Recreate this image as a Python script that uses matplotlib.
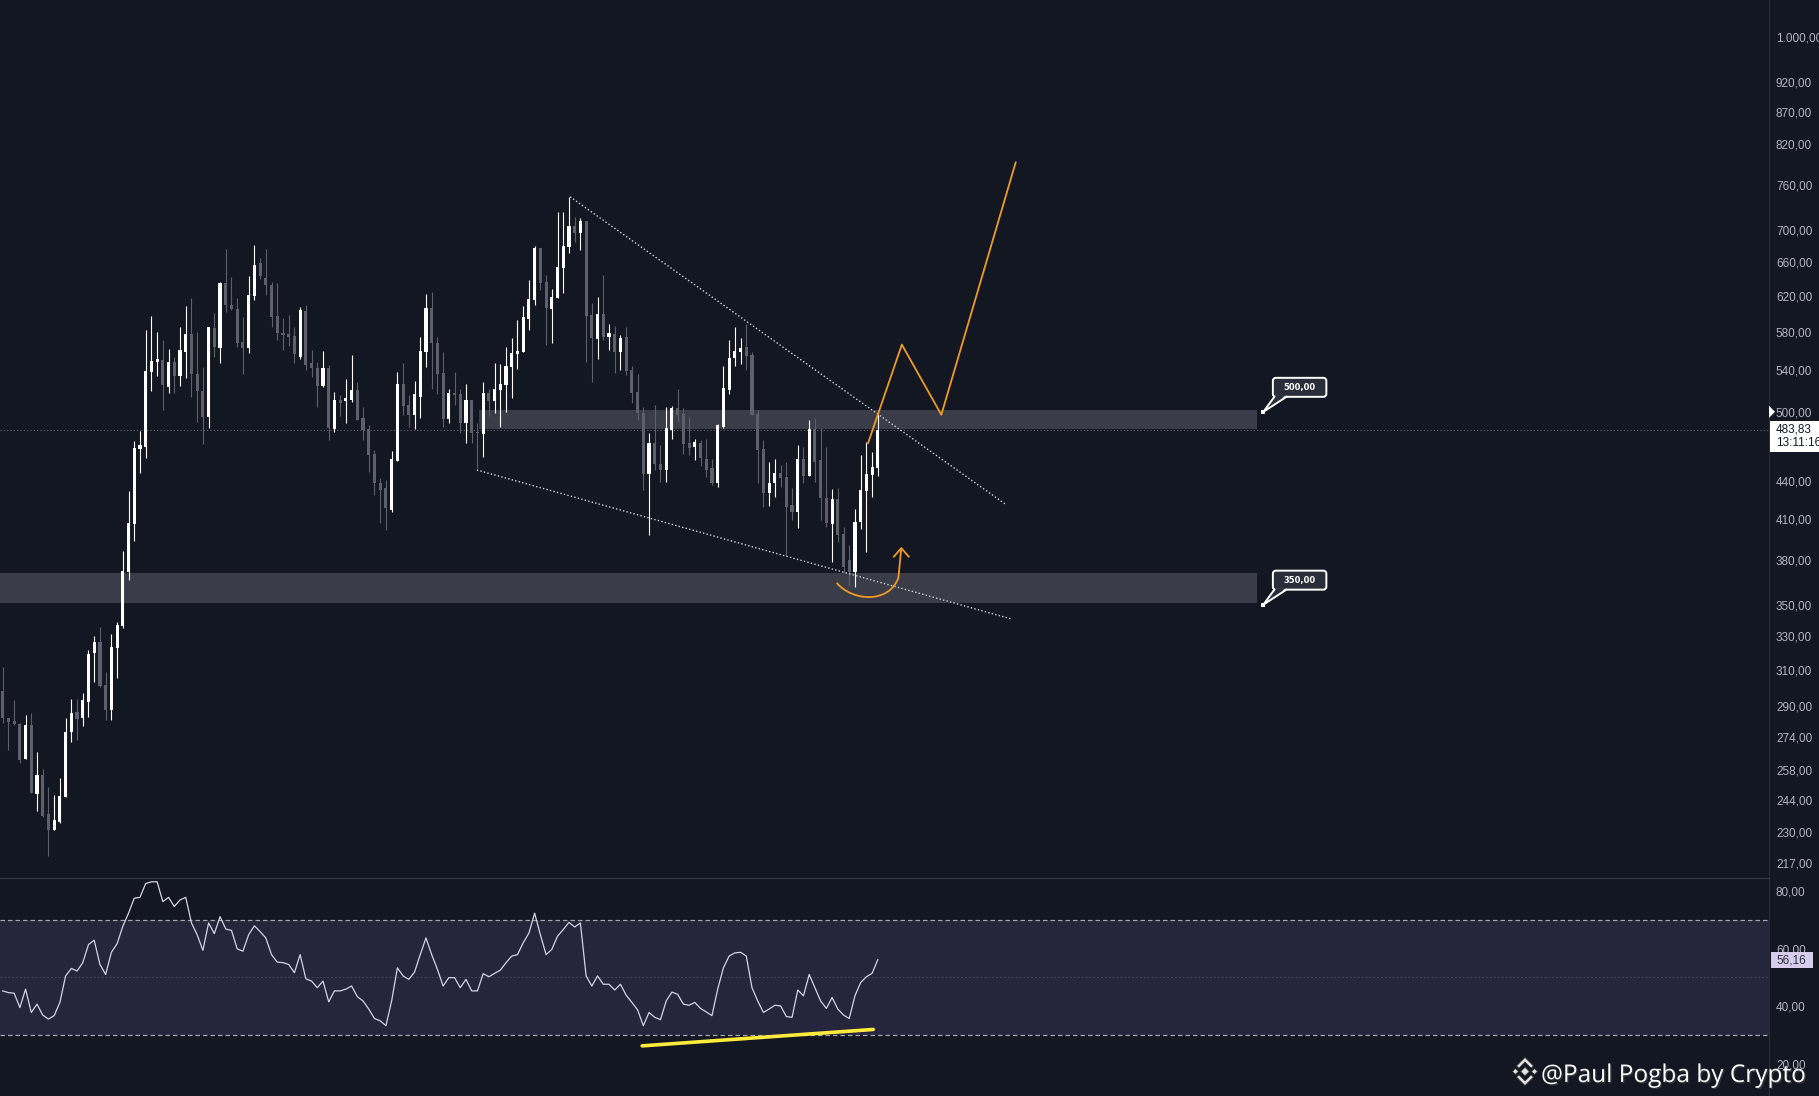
import matplotlib
matplotlib.use("Agg")
import matplotlib.pyplot as plt
import matplotlib.patheffects as pe
from matplotlib.patches import FancyBboxPatch, Polygon, Rectangle, PathPatch
from matplotlib.path import Path

W, H = 1819, 1096
BG = "#131722"
BULL = "#ffffff"
BEAR = "#5d606b"
ORANGE = "#ef9b26"
AXIS_TXT = "#b2b5be"

# ---- candle data ----
opens = [
    298.4, 283.7, 282.3, 280.9, 263.3, 280.1, 246.8, 255.4, 237.6, 230.6,
    234.2, 245.2, 276.3, 286.8, 283.6, 292.4, 319.8, 326.8, 301.6, 287.9,
    323.3, 336.2, 372.0, 406.4, 467.2, 468.8, 538.3, 548.6, 550.6, 523.7,
    548.6, 534.4, 558.4, 577.3, 536.6, 519.2, 495.6, 584.3, 563.1, 634.4,
    609.2, 604.4, 569.1, 562.3, 619.4, 658.0, 640.0, 632.1, 596.9, 578.3,
    577.3, 575.2, 553.3, 602.7, 546.9, 541.8, 524.4, 541.8, 484.0, 511.0,
    510.4, 511.0, 520.8, 494.0, 484.0, 462.9, 438.0, 434.0, 416.9, 456.7,
    526.3, 506.2, 497.0, 514.1, 558.8, 606.1, 568.0, 536.8, 493.0, 517.9,
    516.4, 489.4, 511.0, 481.9, 479.8, 517.9, 510.3, 520.5, 525.3, 542.8,
    556.3, 558.8, 593.3, 614.8, 676.5, 636.0, 604.3, 616.7, 651.9, 678.5,
    705.0, 696.3, 711.9, 598.0, 571.6, 599.1, 574.4, 577.3, 558.8, 573.8,
    540.1, 518.8, 498.8, 445.8, 471.6, 454.4, 449.2, 483.7, 503.1, 498.3,
    471.6, 468.2, 472.2, 457.9, 450.3, 438.5, 486.6, 520.5, 551.9, 558.1,
    563.3, 555.3, 497.9, 466.4, 430.4, 438.0, 446.2, 443.4, 420.7, 415.6,
    457.9, 444.4, 484.0, 457.3, 426.0, 406.2, 425.2, 399.2, 380.0, 371.9,
    407.7, 432.1, 444.8, 450.3,
]
highs = [
    312.0, 284.0, 293.3, 281.0, 285.3, 286.3, 266.6, 258.2, 249.9, 246.0,
    253.9, 283.7, 293.8, 293.8, 297.3, 321.7, 330.1, 336.0, 309.1, 331.4,
    339.1, 386.4, 432.0, 473.9, 482.5, 581.8, 596.9, 579.6, 571.2, 561.6,
    553.7, 584.9, 608.6, 617.6, 579.8, 543.6, 584.9, 600.6, 636.0, 675.7,
    641.9, 616.7, 596.1, 642.7, 680.7, 664.0, 675.3, 636.0, 634.1, 594.7,
    598.0, 585.4, 607.1, 609.2, 560.5, 548.4, 559.8, 545.1, 518.8, 515.8,
    531.2, 555.3, 528.7, 504.7, 487.9, 465.8, 442.1, 440.7, 465.2, 538.4,
    547.4, 515.8, 529.2, 574.1, 621.3, 624.2, 574.1, 558.8, 521.5, 538.4,
    521.5, 526.3, 511.0, 489.9, 528.5, 521.9, 547.4, 546.2, 563.9, 572.7,
    592.5, 608.0, 638.0, 679.4, 676.5, 643.9, 627.1, 723.8, 723.8, 744.2,
    717.2, 715.4, 711.9, 611.1, 618.6, 643.9, 588.1, 586.0, 576.2, 584.6,
    544.1, 536.5, 504.7, 480.4, 506.2, 470.2, 504.7, 505.8, 521.2, 504.0,
    495.4, 475.1, 474.5, 475.1, 457.9, 488.8, 544.1, 570.9, 585.2, 572.7,
    587.8, 558.8, 501.6, 474.5, 456.0, 457.9, 452.9, 456.0, 434.0, 470.2,
    468.2, 492.4, 494.0, 484.9, 468.6, 433.2, 434.0, 404.2, 390.7, 417.4,
    461.5, 472.8, 464.4, 498.3,
]
lows = [
    281.0, 267.4, 280.1, 261.0, 263.0, 246.9, 239.0, 236.3, 219.8, 230.6,
    233.7, 245.2, 271.6, 272.4, 279.6, 284.4, 303.4, 300.6, 282.7, 282.7,
    305.4, 335.1, 366.0, 393.7, 446.4, 459.0, 519.5, 534.6, 501.6, 517.6,
    517.6, 524.8, 532.2, 514.1, 490.9, 471.5, 485.7, 553.3, 547.6, 601.6,
    603.5, 563.9, 536.1, 557.1, 614.8, 638.8, 620.5, 585.2, 570.9, 560.5,
    564.8, 547.4, 551.8, 540.1, 533.2, 504.7, 523.7, 474.5, 481.9, 496.2,
    489.9, 509.4, 492.4, 474.5, 447.5, 428.6, 406.7, 401.7, 415.6, 456.7,
    497.0, 486.4, 484.0, 494.0, 542.8, 521.2, 516.5, 486.4, 489.4, 506.2,
    480.4, 471.6, 471.6, 450.3, 460.3, 496.2, 498.6, 486.4, 500.0, 512.6,
    540.8, 558.8, 581.6, 609.2, 626.3, 565.7, 568.0, 616.7, 622.5, 671.0,
    684.8, 674.4, 548.4, 528.5, 550.9, 570.9, 560.5, 537.5, 540.1, 534.9,
    508.2, 492.4, 432.8, 398.0, 448.9, 439.3, 439.3, 475.6, 491.0, 462.9,
    462.0, 457.3, 452.0, 442.9, 436.5, 434.7, 484.9, 516.7, 544.1, 546.2,
    540.1, 497.0, 438.5, 419.4, 419.9, 427.2, 435.3, 382.8, 409.2, 403.0,
    438.5, 444.4, 439.3, 409.2, 404.2, 378.8, 393.1, 371.2, 362.1, 361.8,
    402.7, 385.9, 427.5, 443.9,
]
closes = [
    283.6, 281.8, 280.6, 262.5, 280.1, 247.1, 255.4, 236.7, 230.6, 234.9,
    245.6, 276.5, 286.7, 283.2, 293.3, 319.4, 326.8, 301.0, 287.9, 323.7,
    337.0, 372.5, 407.0, 467.9, 469.9, 539.1, 549.1, 551.7, 525.3, 548.4,
    534.2, 560.5, 577.3, 536.6, 519.2, 495.6, 584.9, 564.1, 634.1, 609.2,
    604.6, 567.4, 562.3, 620.5, 655.9, 642.3, 632.1, 596.1, 578.0, 576.2,
    574.1, 556.9, 603.5, 545.1, 541.8, 524.4, 541.8, 484.9, 511.0, 508.5,
    513.2, 520.8, 492.4, 483.4, 461.5, 438.0, 432.6, 418.2, 457.9, 526.3,
    505.6, 497.0, 516.5, 559.8, 606.1, 567.4, 536.1, 493.0, 517.9, 515.6,
    489.4, 511.0, 480.4, 480.4, 517.9, 510.3, 521.2, 526.3, 544.1, 557.7,
    559.8, 595.5, 615.6, 676.5, 634.8, 605.4, 618.6, 653.2, 679.4, 705.0,
    696.3, 711.9, 596.9, 572.7, 599.1, 574.4, 578.0, 558.8, 573.4, 539.4,
    517.9, 498.5, 446.0, 471.6, 453.7, 448.9, 484.9, 503.7, 497.0, 471.0,
    467.8, 473.0, 458.8, 448.9, 438.5, 488.3, 522.2, 551.9, 559.8, 562.3,
    554.6, 497.0, 465.8, 430.4, 438.5, 446.2, 442.1, 419.4, 415.6, 457.9,
    444.4, 484.0, 455.9, 426.0, 406.7, 425.2, 398.0, 375.4, 371.9, 407.9,
    432.6, 445.6, 451.6, 483.83,
]
rsi = [
    45.3, 44.7, 44.5, 39.5, 45.9, 37.8, 40.7, 36.9, 35.5, 36.7,
    41.3, 50.5, 53.1, 52.2, 55.1, 61.4, 62.9, 54.5, 51.0, 58.7,
    61.7, 67.7, 72.3, 77.5, 77.8, 82.6, 83.2, 83.2, 76.3, 77.8,
    74.6, 76.9, 77.8, 68.9, 64.8, 59.4, 68.9, 65.2, 71.1, 66.8,
    66.3, 59.9, 59.1, 64.8, 67.9, 65.9, 63.7, 57.9, 55.3, 55.1,
    54.5, 51.6, 57.9, 49.5, 48.7, 46.4, 48.7, 41.5, 45.3, 45.3,
    45.9, 47.0, 43.3, 41.8, 39.0, 35.7, 34.9, 33.2, 41.8, 53.3,
    50.5, 49.3, 51.8, 57.9, 63.7, 57.9, 52.8, 47.0, 49.9, 49.9,
    46.4, 49.3, 45.3, 45.3, 51.3, 50.2, 51.4, 52.5, 55.1, 57.4,
    57.9, 62.0, 65.4, 72.3, 64.8, 57.9, 59.7, 64.3, 66.6, 69.1,
    67.5, 68.9, 50.5, 47.0, 50.5, 47.6, 47.6, 45.6, 47.6, 43.8,
    41.3, 38.7, 33.2, 37.8, 36.1, 35.3, 41.8, 44.9, 44.1, 40.7,
    40.3, 41.3, 39.2, 38.0, 36.7, 45.9, 53.3, 57.4, 58.5, 58.7,
    57.4, 46.4, 41.8, 37.8, 39.0, 40.3, 40.1, 36.4, 36.1, 45.6,
    43.6, 51.0, 46.4, 41.8, 39.2, 43.0, 39.0, 36.9, 35.7, 43.6,
    48.2, 50.2, 51.4, 56.16,
]

price_ticks = [217, 230, 244, 258, 274, 290, 310, 330, 350, 380, 410, 440,
               500, 540, 580, 620, 660, 700, 760, 820, 870, 920, 1000]
rsi_ticks = [20, 40, 60, 80]
last_price = 483.83
last_rsi = 56.16
countdown = "13:11:16"

# drawings (bar index, price)
zone_hi = (83.3, 219.3, 484.0, 502.0)
zone_lo = (-0.5, 219.3, 351.2, 370.8)
upper_line_x, upper_line_y = [99.2, 175.2], [744.2, 421.8]
lower_line_x, lower_line_y = [82.9, 176.2], [449.0, 341.0]
proj_x = [151.3, 157.2, 164.1, 177.1]
proj_y = [472.0, 566.2, 497.3, 793.0]
callouts = [(220.4, 500.0), (220.4, 350.0)]
rsi_div_x, rsi_div_y = [111.8, 152.2], [26.2, 31.9]


def de_fmt(v):
    s = f"{v:,.2f}"
    return s.replace(",", "#").replace(".", ",").replace("#", ".")


fig = plt.figure(figsize=(W / 100, H / 100), dpi=100, facecolor=BG)
ax = fig.add_axes([0, 1 - 878 / H, 1769 / W, 878 / H], facecolor=BG)
rax = fig.add_axes([0, 0, 1769 / W, 217 / H], facecolor=BG)
ov = fig.add_axes([0, 0, 1, 1])
ov.set_xlim(0, W)
ov.set_ylim(H, 0)
ov.axis("off")
ov.patch.set_alpha(0)

ax.set_yscale("log")
ax.set_xlim(-0.47, 308.8)
ax.set_ylim(211.1, 1071.0)

# zones
for x0, x1, lo, hi in (zone_hi, zone_lo):
    ax.fill_between([x0, x1], lo, hi, color="#3a3c47", lw=0, zorder=1)

# candles
idx = list(range(len(closes)))
cols = [BULL if c >= o else BEAR for o, c in zip(opens, closes)]
bots = [min(o, c) for o, c in zip(opens, closes)]
tops = [max(max(o, c), min(o, c) * 1.003) for o, c in zip(opens, closes)]
ax.vlines(idx, lows, highs, colors=cols, lw=0.8, zorder=3)
ax.bar(idx, [t - b for t, b in zip(tops, bots)], bottom=bots, width=0.55,
       color=cols, lw=0, zorder=4)

ax.axhline(last_price, color="#787b86", lw=0.8, ls=(0, (1, 2)), alpha=0.8, zorder=2)

# trend lines + projection
ax.plot(upper_line_x, upper_line_y, color="#d1d4dc", lw=1, ls=(0, (1, 1.6)), zorder=5)
ax.plot(lower_line_x, lower_line_y, color="#d1d4dc", lw=1, ls=(0, (1, 1.6)), zorder=5)
ax.plot(proj_x, proj_y, color=ORANGE, lw=1.3, zorder=6)

hook = Path([(145.8, 364.5), (148.5, 352.0), (155.0, 350.5), (156.6, 368.0),
             (157.1, 388.6)],
            [Path.MOVETO, Path.CURVE4, Path.CURVE4, Path.CURVE4, Path.LINETO])
ax.add_patch(PathPatch(hook, fill=False, ec=ORANGE, lw=1.3, zorder=6))
ax.plot([155.8, 157.1, 158.4], [382.5, 388.6, 382.5], color=ORANGE, lw=1.3, zorder=6)

ax.set_xticks([])
ax.yaxis.tick_right()
ax.set_yticks(price_ticks)
ax.set_yticklabels([de_fmt(v) for v in price_ticks])
ax.minorticks_off()
for a in (ax, rax):
    a.tick_params(axis="y", which="both", length=0, pad=5, labelsize=8.5,
                  labelcolor=AXIS_TXT, labelfontfamily="Liberation Sans")
    for s in ("top", "left"):
        a.spines[s].set_visible(False)
    a.spines["right"].set_color("#2a2e39")
    a.spines["bottom"].set_visible(False)
ax.spines["bottom"].set_visible(True)
ax.spines["bottom"].set_color("#363a45")

# ---- RSI pane ----
rax.set_xlim(-0.47, 308.8)
rax.set_ylim(8.78, 84.17)
rax.axhspan(30, 70, color="#25253b", lw=0, zorder=0)
for lvl in (70, 30):
    rax.axhline(lvl, color="#a3a6b0", lw=0.9, dashes=(3.6, 2.4), zorder=1)
rax.axhline(50, color="#787b86", lw=0.7, dashes=(2, 2), alpha=0.35, zorder=1)
rax.plot(idx, rsi, color="#d4d2e6", lw=0.9, zorder=3)
rax.plot(rsi_div_x, rsi_div_y, color="#ffeb3b", lw=2.6, solid_capstyle="round", zorder=4)
rax.set_xticks([])
rax.yaxis.tick_right()
rax.set_yticks(rsi_ticks)
rax.set_yticklabels([de_fmt(v) for v in rsi_ticks])


def to_px(a, x, y):
    dx, dy = a.transData.transform((x, y))
    return dx, H - dy


# callouts for the zones
for cx, cy in callouts:
    px, py = to_px(ax, cx, cy)
    bl, br, bt, bb = px + 9.5, px + 63, py - 34, py - 15
    ov.add_patch(FancyBboxPatch((bl, bt), br - bl, bb - bt,
                                boxstyle="round,pad=0,rounding_size=3",
                                fc="#2a2e39", ec="white", lw=1.4, zorder=10))
    ov.add_patch(Polygon([(bl + 2, bb - 1.5), (px, py), (bl + 13, bb - 1.5)],
                         closed=True, fc="#2a2e39", ec="none", zorder=11))
    ov.plot([bl + 1.5, px, bl + 13.5], [bb, py, bb], color="white", lw=1.4, zorder=12)
    ov.add_patch(Rectangle((px - 2, py - 2), 4, 4, fc="white", ec="none", zorder=12))
    ov.text((bl + br) / 2, (bt + bb) / 2 + 0.5, de_fmt(cy), color="white",
            fontsize=6, fontweight="bold", ha="center", va="center", zorder=13)

# alert marker at 500
mx, my = to_px(ax, 308.8, callouts[0][1])
ov.add_patch(Polygon([(mx, my - 6), (mx + 6, my), (mx, my + 6)], fc="white", ec="none",
                     zorder=10))

# last price box
lx, ly = to_px(ax, 308.8, last_price)
ov.add_patch(Rectangle((lx + 1, ly - 9), 60, 31, fc="white", ec="none", zorder=10))
ov.text(lx + 7, ly, de_fmt(last_price), color=BG, fontsize=8.5,
        family="Liberation Sans", va="center", ha="left", zorder=11)
ov.text(lx + 7, ly + 13, countdown, color=BG, fontsize=8.5,
        family="Liberation Sans", va="center", ha="left", zorder=11)

# last RSI box
rx, ry = to_px(rax, 308.8, last_rsi)
ov.add_patch(Rectangle((rx + 2, ry - 8), 42, 16, fc="#d6cdee", ec="none", zorder=10))
ov.text(rx + 7, ry + 0.5, de_fmt(last_rsi), color="#2a2e39", fontsize=8.5,
        family="Liberation Sans", va="center", ha="left", zorder=11)

# watermark
lcx, lcy, k = 1525, 1071.5, 1.12
logo_parts = [
    [(0, -3.8), (3.8, 0), (0, 3.8), (-3.8, 0)],
    [(-8.5, -2.6), (-5.9, 0), (-8.5, 2.6), (-11.1, 0)],
    [(8.5, -2.6), (11.1, 0), (8.5, 2.6), (5.9, 0)],
    [(-7.5, -5), (0, -12.5), (7.5, -5), (5.5, -3), (0, -8.5), (-5.5, -3)],
    [(-7.5, 5), (0, 12.5), (7.5, 5), (5.5, 3), (0, 8.5), (-5.5, 3)],
]
for pts in logo_parts:
    ov.add_patch(Polygon([(lcx + k * u, lcy + k * v) for u, v in pts], closed=True,
                         fc="#e4e4e4", ec="#3a3a3a", lw=0.5, zorder=20))
ov.text(1541, 1082, "@Paul Pogba by Crypto", color="white", fontsize=17.6,
        family="Open Sans", ha="left", va="baseline", zorder=20,
        path_effects=[pe.withSimplePatchShadow(offset=(1, -1), alpha=0.5)])

fig.savefig("out.png", dpi=100, facecolor=BG)
